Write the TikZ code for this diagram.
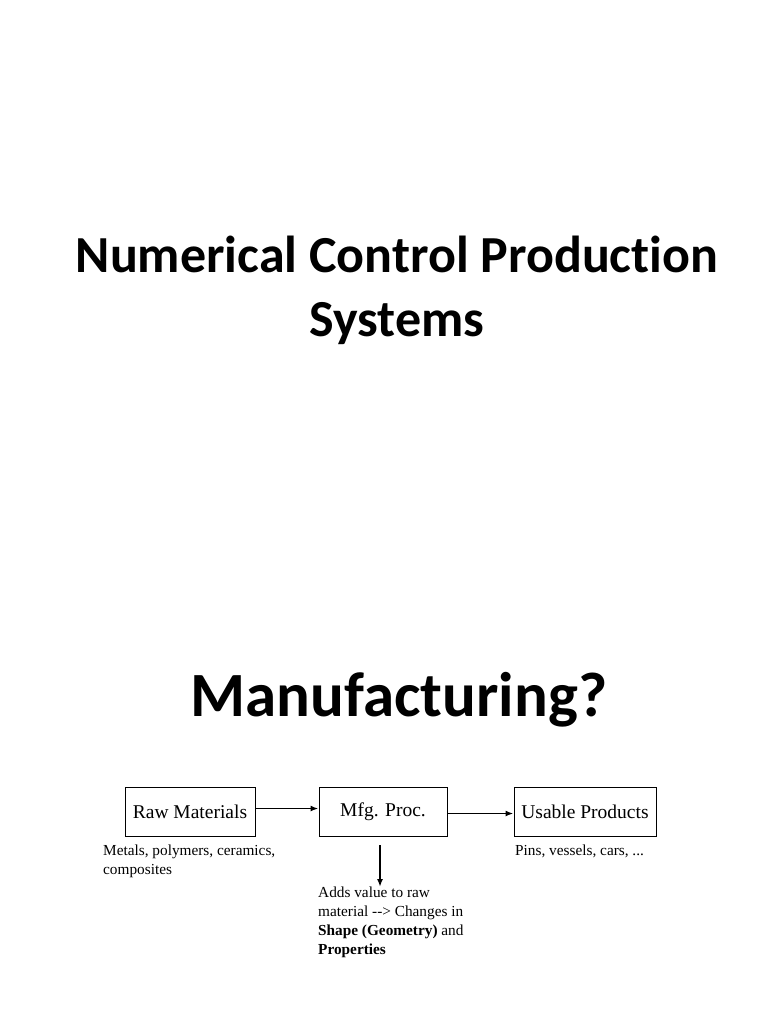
\documentclass[tikz,border=0pt]{standalone}
\usepackage{fontspec}
\setmainfont{Liberation Serif}
\newfontfamily\calibri[Ligatures=NoCommon]{Carlito}
\usetikzlibrary{arrows.meta}
\begin{document}
\begin{tikzpicture}[x=1pt,y=-1pt,
  box/.style={draw,line width=1pt,minimum height=49pt,inner sep=0pt,font=\fontsize{19.5}{22}\selectfont},
  note/.style={anchor=north west,align=left,inner sep=0pt,font=\fontsize{15.3}{19}\selectfont},
  arr/.style={-{Latex[length=8pt,width=6pt]},line width=1.8pt}]
\useasboundingbox[fill=white] (0,0) rectangle (768,1024);
\node[font=\calibri\bfseries\fontsize{52}{64}\selectfont,align=center] (title) at (397,290) {Numerical Control Production\\Systems};
\node[font=\calibri\bfseries\fontsize{63}{70}\selectfont] (manu) at (399,700) {Manufacturing?};
\node[box,minimum width=130pt] (raw) at (190,811.5) {Raw Materials};
\node[box,minimum width=128pt] (mfg) at (383,811.5) {Mfg. Proc.};
\node[box,minimum width=142pt] (use) at (585,811.5) {Usable Products};
\draw[arr] (raw.east) ++(0,-3) coordinate (r1) -- (r1 -| mfg.west);
\draw[arr] (mfg.east) ++(0,2) coordinate (m1) -- (m1 -| use.west);
\coordinate (dtop) at (380,845);
\node[note] (adds) at (318,887) {Adds value to raw\\material -{}-> Changes in\\\textbf{Shape (Geometry)} and\\\textbf{Properties}};
\draw[arr] (dtop) -- (dtop |- adds.north);
\node[note] (metals) at (103,845) {Metals, polymers, ceramics,\\composites};
\node[note] (pins) at (515,845) {Pins, vessels, cars, ...};
\end{tikzpicture}
\end{document}
